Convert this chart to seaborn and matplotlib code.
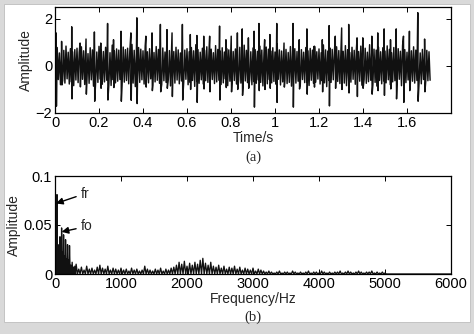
import numpy as np
import pandas as pd
import matplotlib
matplotlib.use("Agg")
import matplotlib.pyplot as plt
from matplotlib.patches import Rectangle
import seaborn as sns

# ---- time-domain signal (a): envelope of the vibration record -------------
# upper / lower envelope sampled every 0.01 s from 0 to 1.70 s
band_step = 0.01
band_hi = [
    0.62, 0.78, 0.55, 0.70, 0.66, 0.84, 0.58, 0.73, 0.60, 0.69,
    0.75, 0.57, 0.81, 0.64, 0.71, 0.52, 0.77, 0.68, 0.74, 0.59,
    0.83, 0.66, 0.61, 0.79, 0.70, 0.56, 0.88, 0.63, 0.72, 0.67,
    0.58, 0.80, 0.69, 0.75, 0.62, 0.91, 0.66, 0.54, 0.78, 0.71,
    0.64, 0.85, 0.60, 0.73, 0.68, 0.57, 0.82, 0.70, 0.63, 0.76,
    0.59, 0.87, 0.65, 0.72, 0.61, 0.79, 0.68, 0.55, 0.84, 0.67,
    0.73, 0.60, 0.78, 0.64, 0.90, 0.69, 0.58, 0.75, 0.66, 0.81,
    0.62, 0.71, 0.56, 0.86, 0.70, 0.63, 0.77, 0.59, 0.74, 0.68,
    0.83, 0.61, 0.72, 0.65, 0.79, 0.57, 0.88, 0.66, 0.73, 0.60,
    0.76, 0.69, 0.62, 0.85, 0.67, 0.54, 0.80, 0.71, 0.64, 0.77,
    0.59, 0.92, 0.68, 0.63, 0.75, 0.70, 0.57, 0.82, 0.66, 0.73,
    0.61, 0.87, 0.69, 0.58, 0.78, 0.64, 0.74, 0.67, 0.83, 0.60,
    0.72, 0.56, 0.89, 0.68, 0.63, 0.76, 0.70, 0.59, 0.81, 0.65,
    0.74, 0.62, 0.86, 0.69, 0.57, 0.79, 0.66, 0.72, 0.61, 0.84,
    0.68, 0.75, 0.58, 0.90, 0.64, 0.71, 0.67, 0.80, 0.60, 0.77,
    0.63, 0.85, 0.70, 0.56, 0.78, 0.66, 0.73, 0.62, 0.88, 0.69,
    0.58, 0.76, 0.64, 0.81, 0.67, 0.72, 0.55, 0.70, 0.61, 0.66,
    0.60,
]
band_lo = [
    -0.66, -0.58, -0.80, -0.62, -0.73, -0.55, -0.77, -0.69, -0.84, -0.60,
    -0.71, -0.64, -0.57, -0.79, -0.67, -0.74, -0.59, -0.86, -0.63, -0.70,
    -0.56, -0.78, -0.68, -0.61, -0.75, -0.83, -0.60, -0.72, -0.65, -0.58,
    -0.81, -0.69, -0.62, -0.76, -0.57, -0.73, -0.88, -0.64, -0.70, -0.59,
    -0.77, -0.66, -0.72, -0.55, -0.82, -0.68, -0.61, -0.74, -0.79, -0.63,
    -0.70, -0.58, -0.85, -0.67, -0.73, -0.60, -0.76, -0.64, -0.69, -0.57,
    -0.80, -0.71, -0.62, -0.87, -0.66, -0.74, -0.59, -0.78, -0.63, -0.70,
    -0.83, -0.58, -0.75, -0.68, -0.61, -0.79, -0.72, -0.56, -0.84, -0.65,
    -0.69, -0.62, -0.77, -0.60, -0.73, -0.89, -0.64, -0.71, -0.58, -0.80,
    -0.67, -0.74, -0.61, -0.70, -0.85, -0.63, -0.76, -0.59, -0.72, -0.66,
    -0.78, -0.57, -0.81, -0.68, -0.62, -0.75, -0.70, -0.86, -0.60, -0.73,
    -0.65, -0.79, -0.58, -0.71, -0.67, -0.83, -0.61, -0.74, -0.69, -0.56,
    -0.77, -0.64, -0.72, -0.88, -0.62, -0.70, -0.59, -0.80, -0.66, -0.75,
    -0.60, -0.73, -0.84, -0.63, -0.69, -0.57, -0.78, -0.71, -0.65, -0.82,
    -0.58, -0.74, -0.67, -0.61, -0.79, -0.70, -0.87, -0.62, -0.76, -0.64,
    -0.72, -0.59, -0.81, -0.68, -0.63, -0.75, -0.57, -0.84, -0.66, -0.71,
    -0.60, -0.78, -0.65, -0.73, -0.62, -0.69, -0.76, -0.58, -0.67, -0.63,
    -0.61,
]

# impulses: time, positive peak, negative peak
spike_t = [0.005, 0.030, 0.076, 0.114, 0.141, 0.179, 0.208, 0.239, 0.266, 0.300,
           0.345, 0.372, 0.413, 0.441, 0.479, 0.509, 0.532, 0.579, 0.615, 0.645,
           0.676, 0.703, 0.748, 0.777, 0.801, 0.829, 0.851, 0.879, 0.905, 0.927,
           0.953, 0.977, 1.008, 1.041, 1.082, 1.110, 1.145, 1.178, 1.215, 1.246,
           1.274, 1.303, 1.335, 1.373, 1.399, 1.440, 1.467, 1.496, 1.525, 1.551,
           1.584, 1.611, 1.649, 1.680]
spike_hi = [1.40, 1.04, 1.66, 0.97, 1.14, 1.44, 0.97, 1.80, 1.11, 1.47,
            1.40, 2.04, 1.26, 1.40, 1.76, 1.54, 1.40, 1.76, 1.33, 1.29,
            1.26, 1.26, 1.69, 1.11, 1.26, 1.40, 1.57, 1.19, 1.47, 1.80,
            1.11, 1.33, 1.80, 0.97, 1.80, 1.11, 1.57, 0.83, 1.11, 1.71,
            1.26, 1.61, 1.76, 1.19, 1.19, 1.26, 1.40, 1.57, 1.11, 1.57,
            1.26, 1.47, 2.26, 1.14]
spike_lo = [-1.71, -0.81, -1.40, -0.89, -1.20, -1.50, -0.95, -1.45, -0.92, -1.50,
            -1.46, -1.60, -0.90, -1.05, -1.10, -0.95, -1.30, -1.45, -1.00, -1.55,
            -0.98, -1.10, -1.45, -0.92, -1.10, -1.00, -1.25, -0.95, -1.75, -1.05,
            -1.00, -0.95, -1.55, -0.90, -1.75, -0.98, -1.20, -0.90, -1.10, -1.70,
            -0.95, -1.00, -1.15, -1.30, -0.95, -1.20, -1.05, -1.25, -0.98, -1.40,
            -1.55, -1.05, -1.50, -1.10]

# ---- spectrum (b) ---------------------------------------------------------
low_freq = [10, 20, 30, 45, 60, 75, 90, 100, 115, 130,
            145, 160, 175, 190, 205, 220, 240, 260, 280, 300]
low_amp = [0.012, 0.050, 0.081, 0.030, 0.025, 0.038, 0.020, 0.047, 0.022, 0.040,
           0.018, 0.035, 0.015, 0.030, 0.014, 0.029, 0.009, 0.012, 0.007, 0.008]
# 40 Hz bins from 320 Hz up to 5000 Hz
high_start, high_step = 320, 40
high_amp = [
    0.010, 0.005, 0.007, 0.004, 0.008, 0.005, 0.006, 0.004, 0.007, 0.009,
    0.006, 0.005, 0.008, 0.004, 0.006, 0.005, 0.004, 0.006,
    0.004, 0.005, 0.003, 0.006, 0.004, 0.005, 0.003, 0.004, 0.008, 0.005,
    0.004, 0.003, 0.005, 0.004, 0.006, 0.003, 0.005, 0.004, 0.006,
    0.007, 0.009, 0.012, 0.010, 0.013, 0.008, 0.011, 0.009, 0.012, 0.010,
    0.014, 0.016, 0.011, 0.009, 0.012, 0.008,
    0.007, 0.009, 0.006, 0.008, 0.005, 0.007, 0.006, 0.008, 0.005, 0.007,
    0.004, 0.006, 0.005, 0.004, 0.006, 0.003, 0.005, 0.004,
    0.003, 0.002, 0.003, 0.002, 0.001, 0.002, 0.003, 0.001, 0.002, 0.002,
    0.001, 0.003, 0.002, 0.001, 0.002, 0.001, 0.002, 0.003, 0.001, 0.002,
    0.002, 0.001, 0.003, 0.002, 0.001, 0.002, 0.001, 0.002, 0.002, 0.003,
    0.001, 0.002, 0.003, 0.002, 0.001, 0.002, 0.003, 0.002, 0.001, 0.002,
    0.002, 0.003, 0.001, 0.002, 0.001, 0.002, 0.001,
]

time_ticks = [0, 0.2, 0.4, 0.6, 0.8, 1, 1.2, 1.4, 1.6]
time_ticklabels = ["0", "0.2", "0.4", "0.6", "0.8", "1", "1.2", "1.4", "1.6"]
amp_ticks = [-2, 0, 2]
freq_ticks = [0, 1000, 2000, 3000, 4000, 5000, 6000]
spec_ticks = [0, 0.05, 0.1]
spec_ticklabels = ["0", "0.05", "0.1"]

# ---- build the traces -----------------------------------------------------
t_pts, y_pts = [], []
for i, (h, l) in enumerate(zip(band_hi, band_lo)):
    t0 = i * band_step
    t_pts += [t0, t0 + band_step / 2]
    y_pts += [h, l]
for ts, h, l in zip(spike_t, spike_hi, spike_lo):
    t_pts += [ts, ts + 0.0015]
    y_pts += [h, l]
sig = pd.DataFrame({"t": t_pts, "y": y_pts}).sort_values("t", kind="stable")

f_pts, a_pts = [0.0], [0.0]
prev = 0.0
for f, a in zip(low_freq, low_amp):
    f_pts += [(prev + f) / 2, f]
    a_pts += [0.0, a]
    prev = f
for k, a in enumerate(high_amp):
    f = high_start + k * high_step
    f_pts += [(prev + f) / 2, f]
    a_pts += [0.0, a]
    prev = f
f_pts += [prev + 20, 6000]
a_pts += [0.0, 0.0]
spec = pd.DataFrame({"f": f_pts, "a": a_pts})

# ---- figure ---------------------------------------------------------------
sns.set_style("ticks")
plt.rcParams["font.family"] = ["Liberation Sans", "DejaVu Sans"]
plt.rcParams["xtick.direction"] = "in"
plt.rcParams["ytick.direction"] = "in"

W, H = 474, 334
fig = plt.figure(figsize=(W / 100, H / 100), dpi=100)
fig.patch.set_facecolor("#d9d9d9")
panel = Rectangle((4 / W, 12 / H), 466 / W, 318 / H,
                  transform=fig.transFigure, facecolor="white",
                  edgecolor="#bdbdbd", lw=0.6, zorder=-10)
fig.add_artist(panel)

ax1 = fig.add_axes([55 / W, 1 - 113 / H, 396 / W, 106 / H])
ax2 = fig.add_axes([55 / W, 1 - 274 / H, 396 / W, 98 / H])

fs = 10
tfs = 10.5
for ax in (ax1, ax2):
    ax.set_facecolor("white")
    for s in ax.spines.values():
        s.set_visible(True)
        s.set_linewidth(0.9)
        s.set_color("black")
    ax.tick_params(which="both", top=True, right=True, length=3.5,
                   width=0.7, labelsize=tfs, pad=2, colors="black")

sns.lineplot(data=sig, x="t", y="y", sort=False, estimator=None,
             color="#111111", lw=1.05, ax=ax1)
ax1.set_xlim(0, 1.8)
ax1.set_ylim(-2, 2.5)
ax1.set_xticks(time_ticks)
ax1.set_xticklabels(time_ticklabels)
ax1.set_yticks(amp_ticks)
ax1.set_xlabel("Time/s", fontsize=fs, labelpad=1)
ax1.set_ylabel("Amplitude", fontsize=fs, labelpad=2)
ax1.text(0.5, -0.42, "(a)", transform=ax1.transAxes, ha="center", va="center",
         fontsize=10.5, family=["Liberation Serif", "DejaVu Serif"])

sns.lineplot(data=spec, x="f", y="a", sort=False, estimator=None,
             color="#111111", lw=0.95, ax=ax2)
ax2.set_xlim(0, 6000)
ax2.set_ylim(0, 0.1)
ax2.set_xticks(freq_ticks)
ax2.set_yticks(spec_ticks)
ax2.set_yticklabels(spec_ticklabels)
ax2.set_xlabel("Frequency/Hz", fontsize=fs, labelpad=1)
ax2.set_ylabel("Amplitude", fontsize=fs, labelpad=2)
ax2.text(0.5, -0.44, "(b)", transform=ax2.transAxes, ha="center", va="center",
         fontsize=10.5, family=["Liberation Serif", "DejaVu Serif"])

arrow = dict(arrowstyle="-|>", color="black", lw=1.0, mutation_scale=10,
             shrinkA=1, shrinkB=0)
ax2.annotate("fr", xy=(15, 0.072), xytext=(390, 0.082), fontsize=fs,
             ha="left", va="center", arrowprops=arrow)
ax2.annotate("fo", xy=(100, 0.043), xytext=(390, 0.0485), fontsize=fs,
             ha="left", va="center", arrowprops=arrow)

fig.savefig("out.png", dpi=100, facecolor=fig.get_facecolor())
